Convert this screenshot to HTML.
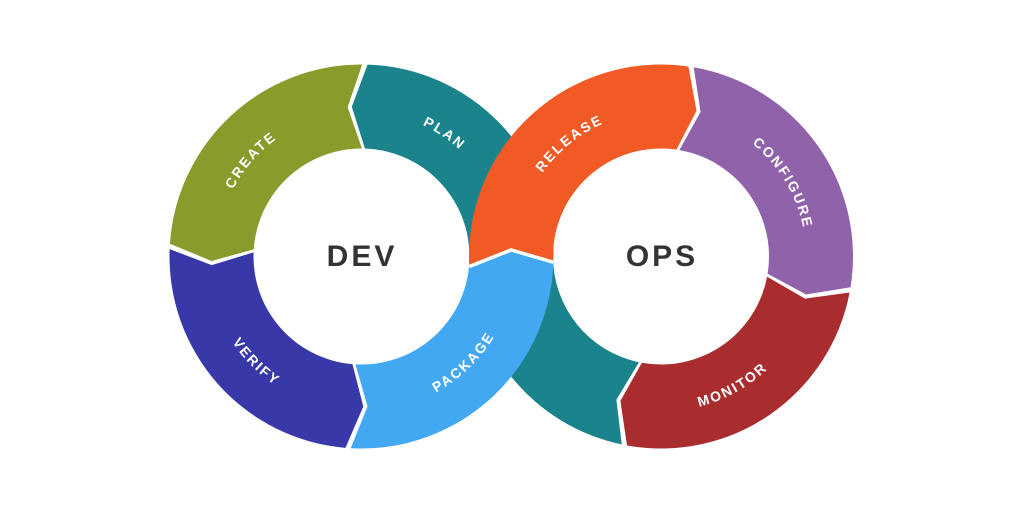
<!DOCTYPE html>
<html><head><meta charset="utf-8"><style>
html,body{margin:0;padding:0;background:#fff;width:1024px;height:512px;overflow:hidden}
svg{display:block}
.lbl{font-family:"Liberation Sans",sans-serif;font-weight:bold;font-size:14px;letter-spacing:2px;fill:#fff}
.big{font-family:"Liberation Sans",sans-serif;font-weight:bold;font-size:30px;letter-spacing:3px;fill:#333}
</style></head><body>
<svg id="s" width="1024" height="512" viewBox="0 0 1024 512" xmlns="http://www.w3.org/2000/svg">
<defs id="d"></defs>
<g id="g"></g>
<text class="big" x="362" y="266" text-anchor="middle">DEV</text>
<text class="big" x="662" y="266" text-anchor="middle">OPS</text>
</svg>
<script>
var L=[361.5,256.5],R=[661,256.5],ri=108,ro=192,rm=150;
function P(c,r,a){a*=Math.PI/180;return (c[0]+r*Math.cos(a)).toFixed(2)+' '+(c[1]+r*Math.sin(a)).toFixed(2);}
function seg(c,a1,a2,d,col,f1,f2,g1){
 var g=0.8,b1=a1+(g1===undefined?g:g1),b2=f2?a2:a2-g,lg=(b2-b1)>180?1:0;
 if(f1)b1=a1;
 var s='M'+P(c,ro,b1)+' A'+ro+' '+ro+' 0 '+lg+' 1 '+P(c,ro,b2);
 if(!f2)s+=' L'+P(c,rm,b2+d);
 s+=' L'+P(c,ri,b2)+' A'+ri+' '+ri+' 0 '+lg+' 0 '+P(c,ri,b1);
 if(!f1)s+=' L'+P(c,rm,b1+d);
 s+='Z';
 return '<path d="'+s+'" fill="'+col+'"/>';
}
var h='';
h+=seg(L,271,360,-5.5,'#1b838c',false,true);
h+=seg(R,101,180,5.5,'#1b838c',false,true);
h+=seg(L,183,271,-5.5,'#899b2b');
h+=seg(L,94,183,-5.5,'#3838a8');
h+=seg(L,0,94,-5.5,'#42a8f2',false,false,0);
h+=seg(R,177,279,5.5,'#f15a25',false,false,0);
h+='<polyline points="'+P(R,ro,177)+' '+P(R,rm,182.5)+' '+P(R,ri,177)+'" fill="none" stroke="#fff" stroke-width="3.5"/>';
h+=seg(R,279,370,5.5,'#8f62aa');
h+=seg(R,10,101,5.5,'#a92d2f');
var defs='',n=0;
function lab(c,ang,txt,top){
 n++;var id='p'+n,s;
 if(top){var r=rm-5;s='M'+P(c,r,ang-60)+' A'+r+' '+r+' 0 0 1 '+P(c,r,ang+60);}
 else{var r=rm+5;s='M'+P(c,r,ang+60)+' A'+r+' '+r+' 0 0 0 '+P(c,r,ang-60);}
 defs+='<path id="'+id+'" d="'+s+'"/>';
 h+='<text class="lbl"><textPath href="#'+id+'" startOffset="50%" text-anchor="middle">'+txt+'</textPath></text>';
}
lab(L,221,'CREATE',true);
lab(L,304,'PLAN',true);
lab(L,135,'VERIFY',false);
lab(L,46,'PACKAGE',false);
lab(R,231,'RELEASE',true);
lab(R,329,'CONFIGURE',true);
lab(R,61,'MONITOR',false);
document.getElementById('d').innerHTML=defs;
document.getElementById('g').innerHTML=h;
</script>
</body></html>
